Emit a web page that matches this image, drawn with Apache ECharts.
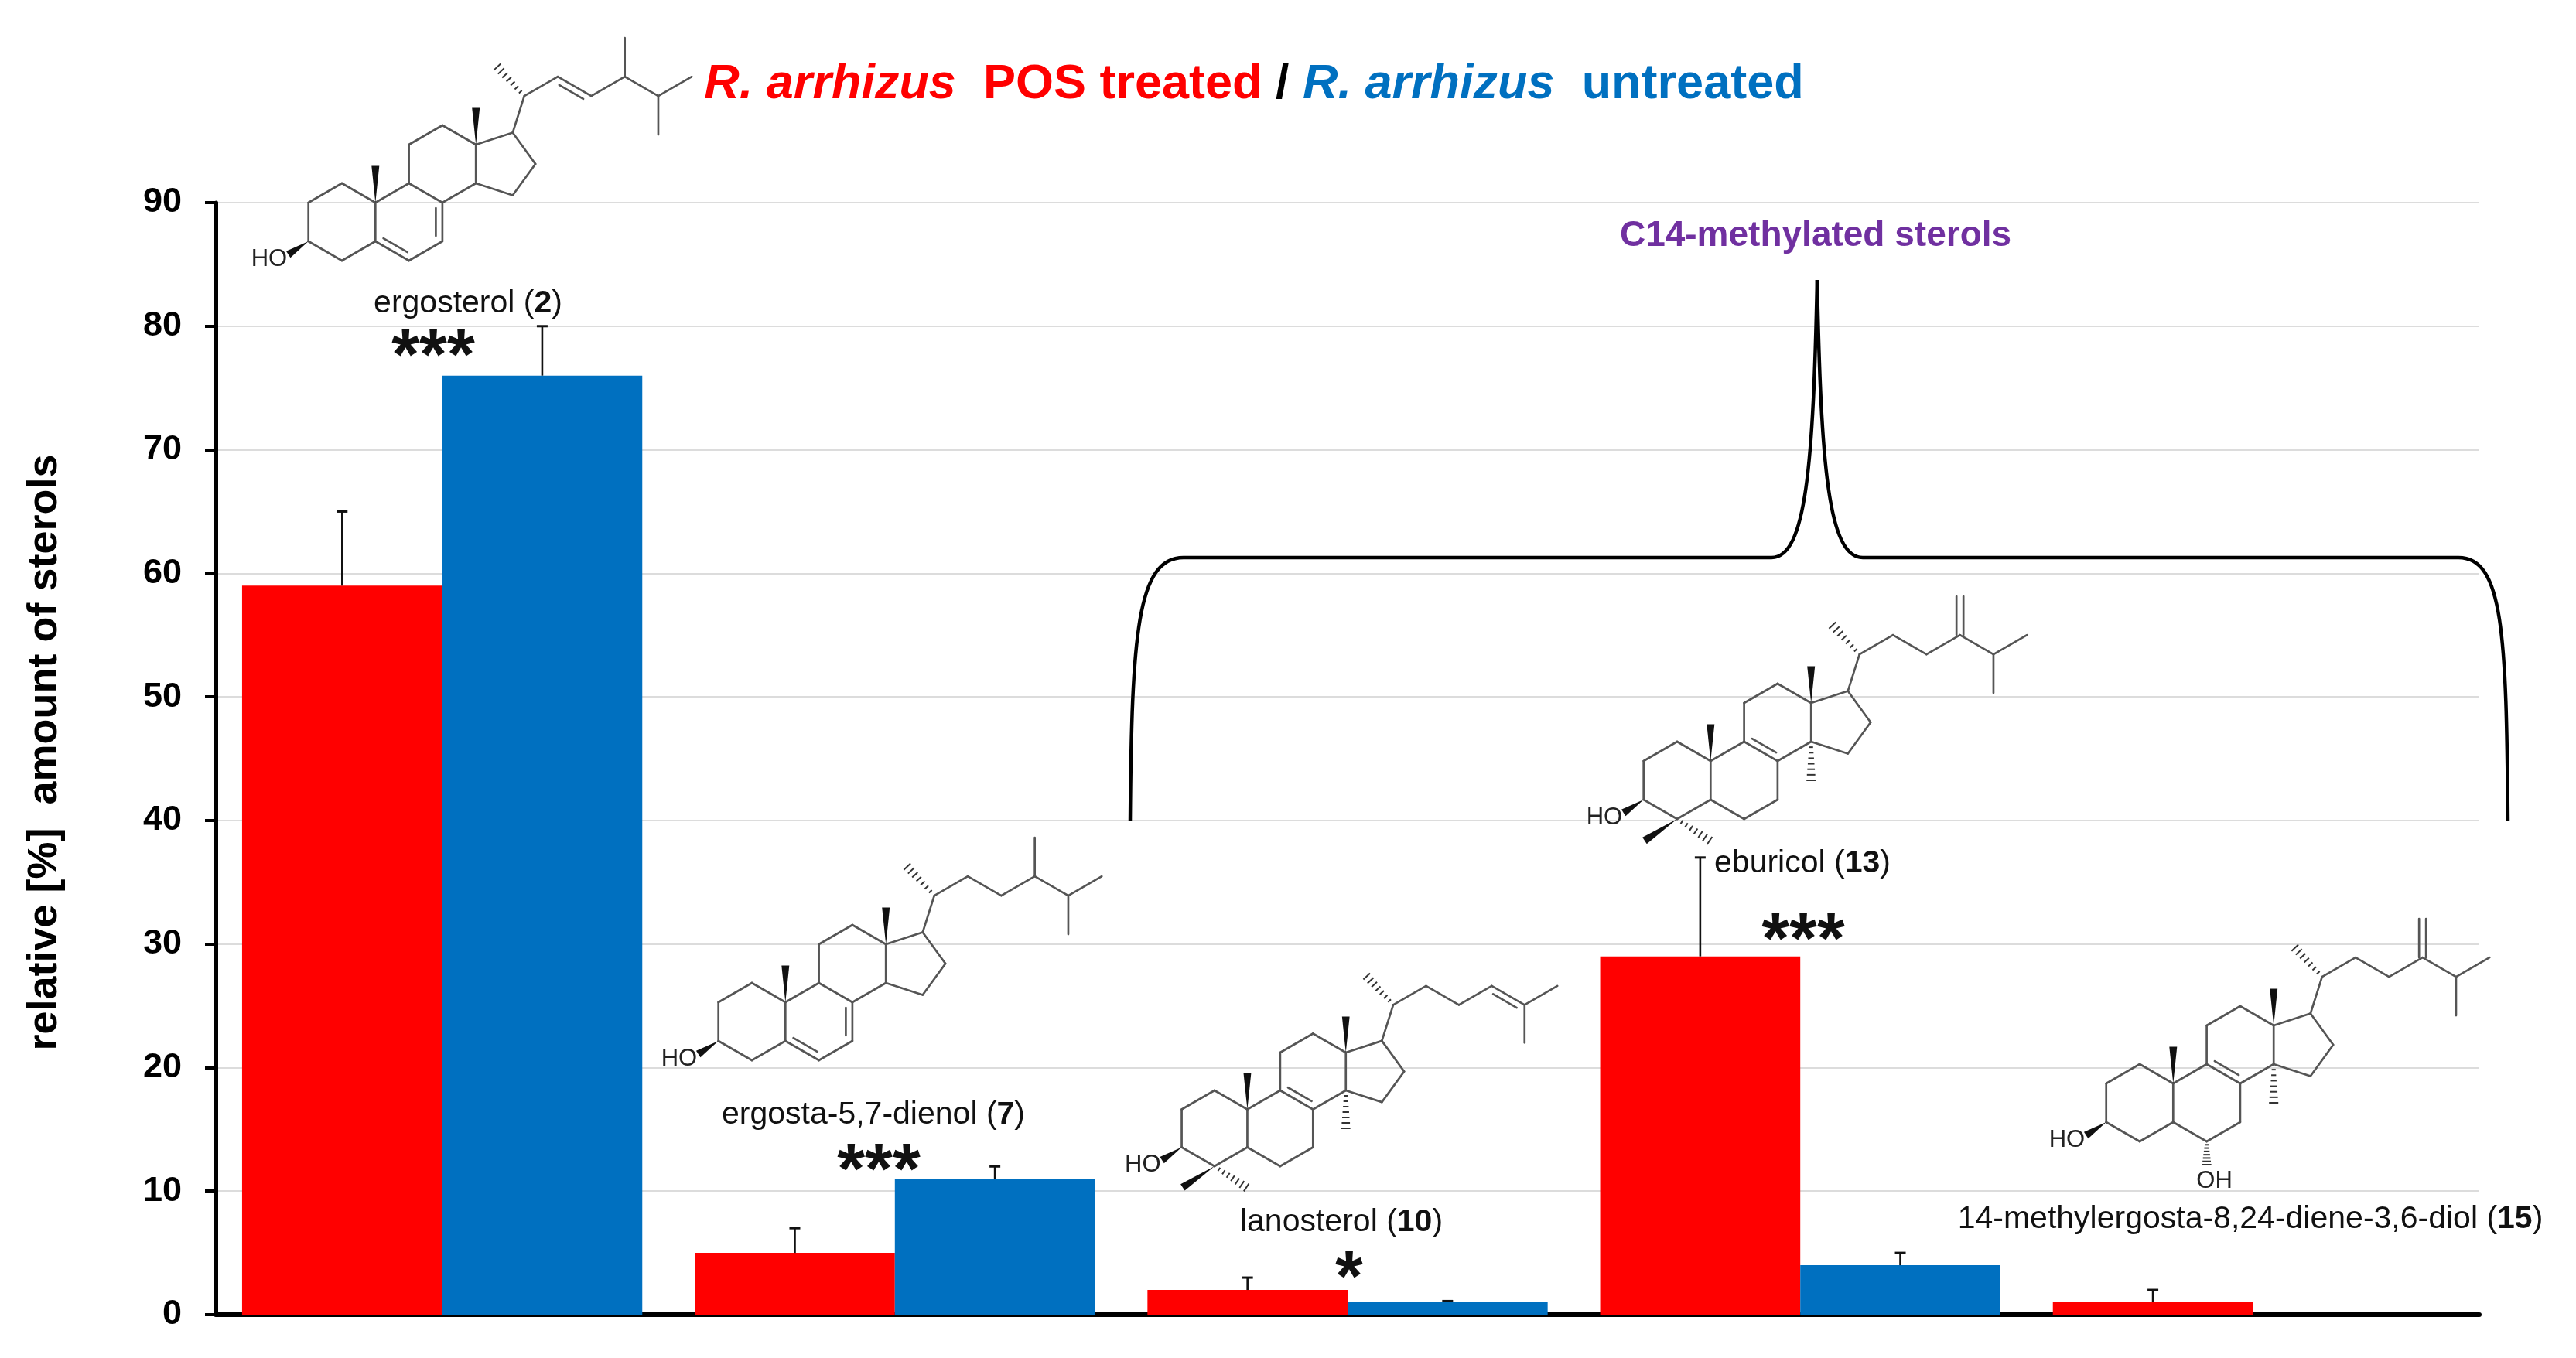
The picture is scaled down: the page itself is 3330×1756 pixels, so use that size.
<!DOCTYPE html>
<html><head><meta charset="utf-8">
<script src="https://cdn.jsdelivr.net/npm/echarts@6/dist/echarts.min.js"></script>
<style>html,body{margin:0;padding:0;background:#fff}#c{width:3330px;height:1756px}</style>
</head><body><div id="c"></div>
<script>
// ---------------- data ----------------
const categories = ['ergosterol (2)', 'ergosta-5,7-dienol (7)', 'lanosterol (10)', 'eburicol (13)', '14-methylergosta-8,24-diene-3,6-diol (15)'];
const treated = [59, 5, 2, 29, 1];
const treatedErr = [6, 2, 1, 8, 1];
const untreated = [76, 11, 1, 4, 0];
const untreatedErr = [4, 1, 0.1, 1, 0];
const significance = ['***', '***', '*', '***', ''];
const yTicks = [0, 10, 20, 30, 40, 50, 60, 70, 80, 90];
const seriesNames = ['R. arrhizus POS treated', 'R. arrhizus untreated'];
const groupLabel = 'C14-methylated sterols';
const yTitle = 'relative [%]  amount of sterols';

// ---------------- layout / style ----------------
const FONT = 'Liberation Sans';
const RED = '#FF0000', BLUE = '#0070C0';
const CAT_GAP = 0.116;
const labelPos = [[605, 393], [1129, 1442], [1734, 1581], [2330, 1117], [2909, 1577]];
const starPos = [[560, 465], [1136, 1518], [1744, 1657], [2331, 1220]];
const structureLayout = [
  {ax: 442, ay: 287, L: 50, d5: 1, d7: 1, d22: 1, c28: 'methyl'},
  {ax: 972, ay: 1321, L: 50, d5: 1, d7: 1, c28: 'methyl'},
  {ax: 1570, ay: 1459, L: 49, d8: 1, d24: 1, dm4: 1, me14: 1, c28: 'none'},
  {ax: 2168, ay: 1009, L: 50, d8: 1, dm4: 1, me14: 1, c28: 'methylene'},
  {ax: 2766, ay: 1426, L: 50, d8: 1, me14: 1, oh6: 1, c28: 'methylene'}
];

// ---------------- structure drawing helpers ----------------
const GRAY = '#555';
function seg(a, b, w) {
  return {type: 'line', silent: true, z: 5, shape: {x1: a[0], y1: a[1], x2: b[0], y2: b[1]},
    style: {stroke: GRAY, lineWidth: w || 2.7, lineCap: 'round'}};
}
function wedge(a, b, L) {
  const dx = b[0] - a[0], dy = b[1] - a[1], len = Math.hypot(dx, dy);
  const px = -dy / len * 0.1 * L, py = dx / len * 0.1 * L;
  return {type: 'polygon', silent: true, z: 5,
    shape: {points: [[a[0], a[1]], [b[0] + px, b[1] + py], [b[0] - px, b[1] - py]]},
    style: {fill: '#111'}};
}
function hashed(a, b, L) {
  const out = [];
  const dx = b[0] - a[0], dy = b[1] - a[1], len = Math.hypot(dx, dy);
  const ux = -dy / len, uy = dx / len;
  const n = 7;
  for (let i = 1; i <= n; i++) {
    const t = i / n;
    const cx = a[0] + dx * t, cy = a[1] + dy * t;
    const w = 0.04 * L + 0.08 * L * t;
    out.push({type: 'line', silent: true, z: 5,
      shape: {x1: cx - ux * w, y1: cy - uy * w, x2: cx + ux * w, y2: cy + uy * w},
      style: {stroke: '#333', lineWidth: 2}});
  }
  return out;
}
function inner(a, b, c, L) {
  const mx = (a[0] + b[0]) / 2, my = (a[1] + b[1]) / 2;
  const dx = b[0] - a[0], dy = b[1] - a[1], len = Math.hypot(dx, dy);
  let ux = -dy / len, uy = dx / len;
  if ((c[0] - mx) * ux + (c[1] - my) * uy < 0) { ux = -ux; uy = -uy; }
  const off = 0.17 * L, sh = 0.14;
  return seg([a[0] + dx * sh + ux * off, a[1] + dy * sh + uy * off],
             [b[0] - dx * sh + ux * off, b[1] - dy * sh + uy * off]);
}
function txt(s, x, y, align) {
  return {type: 'text', silent: true, z: 6, x: x, y: y,
    style: {text: s, font: '31px "' + FONT + '"', fill: '#222', textAlign: align || 'center', textVerticalAlign: 'middle'}};
}
function sterol(o) {
  const ax = o.ax, ay = o.ay, L = o.L, h = Math.sqrt(3) / 2 * L;
  const P = {
    C1: [ax, ay - L], C2: [ax - h, ay - L / 2], C3: [ax - h, ay + L / 2], C4: [ax, ay + L],
    C5: [ax + h, ay + L / 2], C10: [ax + h, ay - L / 2],
    C6: [ax + 2 * h, ay + L], C7: [ax + 3 * h, ay + L / 2], C8: [ax + 3 * h, ay - L / 2], C9: [ax + 2 * h, ay - L],
    C11: [ax + 2 * h, ay - 2 * L], C12: [ax + 3 * h, ay - 2.5 * L], C13: [ax + 4 * h, ay - 2 * L], C14: [ax + 4 * h, ay - L]
  };
  const x0 = ax + 4 * h, y0 = ay - 1.5 * L;
  P.C15 = [x0 + 0.951 * L, y0 + 0.809 * L];
  P.C16 = [x0 + 1.539 * L, y0];
  P.C17 = [x0 + 0.951 * L, y0 - 0.809 * L];
  P.C20 = [P.C17[0] + 0.3 * L, P.C17[1] - 0.95 * L];
  P.C21 = [P.C20[0] - 0.7 * L, P.C20[1] - 0.75 * L];
  P.C22 = [P.C20[0] + h, P.C20[1] - L / 2];
  P.C23 = [P.C22[0] + h, P.C22[1] + L / 2];
  P.C24 = [P.C23[0] + h, P.C23[1] - L / 2];
  P.C25 = [P.C24[0] + h, P.C24[1] + L / 2];
  P.C26 = [P.C25[0] + h, P.C25[1] - L / 2];
  P.C27 = [P.C25[0], P.C25[1] + L];
  P.C28 = [P.C24[0], P.C24[1] - L];
  const Bc = [ax + 2 * h, ay], Cc = [ax + 3 * h, ay - 1.5 * L];
  const bonds = [['C1','C2'],['C2','C3'],['C3','C4'],['C4','C5'],['C5','C10'],['C10','C1'],
    ['C5','C6'],['C6','C7'],['C7','C8'],['C8','C9'],['C9','C10'],
    ['C9','C11'],['C11','C12'],['C12','C13'],['C13','C14'],['C14','C8'],
    ['C13','C17'],['C17','C16'],['C16','C15'],['C15','C14'],
    ['C17','C20'],['C20','C22'],['C22','C23'],['C23','C24'],['C24','C25'],['C25','C26'],['C25','C27']];
  const els = bonds.map(b => seg(P[b[0]], P[b[1]]));
  if (o.c28 === 'methyl') els.push(seg(P.C24, P.C28));
  if (o.c28 === 'methylene') {
    const d = 0.09 * L;
    els.push(seg([P.C24[0] - d, P.C24[1]], [P.C28[0] - d, P.C28[1]]));
    els.push(seg([P.C24[0] + d, P.C24[1]], [P.C28[0] + d, P.C28[1]]));
  }
  if (o.d5) els.push(inner(P.C5, P.C6, Bc, L));
  if (o.d7) els.push(inner(P.C7, P.C8, Bc, L));
  if (o.d8) els.push(inner(P.C8, P.C9, Cc, L));
  if (o.d22) els.push(inner(P.C22, P.C23, [P.C22[0], P.C22[1] + 200], L));
  if (o.d24) els.push(inner(P.C24, P.C25, [P.C24[0], P.C24[1] + 200], L));
  els.push(wedge(P.C10, [P.C10[0], P.C10[1] - 0.95 * L], L));
  els.push(wedge(P.C13, [P.C13[0], P.C13[1] - 0.95 * L], L));
  els.push(...hashed(P.C20, P.C21, L));
  if (o.me14) els.push(...hashed(P.C14, [P.C14[0], P.C14[1] + L], L));
  if (o.dm4) {
    els.push(wedge(P.C4, [P.C4[0] - 0.84 * L, P.C4[1] + 0.56 * L], L));
    els.push(...hashed(P.C4, [P.C4[0] + 0.84 * L, P.C4[1] + 0.56 * L], L));
  }
  els.push(wedge(P.C3, [P.C3[0] - 0.52 * L, P.C3[1] + 0.34 * L], L));
  els.push(txt('HO', P.C3[0] - 0.55 * L, P.C3[1] + 0.47 * L, 'right'));
  if (o.oh6) {
    els.push(...hashed(P.C6, [P.C6[0], P.C6[1] + 0.6 * L], L));
    els.push(txt('OH', P.C6[0] + 0.2 * L, P.C6[1] + 1.02 * L, 'center'));
  }
  return els;
}

// ---------------- graphics ----------------
const graphics = [];
structureLayout.forEach(s => graphics.push(...sterol(s)));
categories.forEach((c, i) => {
  graphics.push({type: 'text', silent: true, z: 10, x: labelPos[i][0], y: labelPos[i][1],
    style: {text: c.replace(/\((\d+)\)$/, '({b|$1})'), font: '41px "' + FONT + '"', fill: '#111',
      textAlign: 'center', textVerticalAlign: 'middle',
      rich: {b: {fontWeight: 'bold', fontSize: 41, fontFamily: FONT, fill: '#111'}}}});
});
significance.forEach((s, i) => {
  if (!s) return;
  graphics.push({type: 'text', silent: true, z: 10, x: starPos[i][0], y: starPos[i][1],
    style: {text: s, font: 'bold 92px "' + FONT + '"', fill: '#111', textAlign: 'center', textVerticalAlign: 'middle'}});
});
graphics.push({type: 'text', silent: true, z: 10, x: 2347, y: 305,
  style: {text: groupLabel, font: 'bold 46px "' + FONT + '"', fill: '#7030A0', textAlign: 'center', textVerticalAlign: 'middle'}});
// brace
const braceStyle = {stroke: '#000', lineWidth: 4.5, fill: null};
[
  {x1: 1461, y1: 1062, cpx1: 1463, cpy1: 820, cpx2: 1470, cpy2: 721, x2: 1530, y2: 721},
  {x1: 2290, y1: 721, cpx1: 2335, cpy1: 721, cpx2: 2344, cpy2: 600, x2: 2349, y2: 362},
  {x1: 2349, y1: 362, cpx1: 2354, cpy1: 600, cpx2: 2363, cpy2: 721, x2: 2408, y2: 721},
  {x1: 3178, y1: 721, cpx1: 3236, cpy1: 721, cpx2: 3240, cpy2: 820, x2: 3242, y2: 1062}
].forEach(sh => graphics.push({type: 'bezierCurve', silent: true, z: 8, shape: sh, style: braceStyle}));
graphics.push({type: 'line', silent: true, z: 8, shape: {x1: 1530, y1: 721, x2: 2290, y2: 721}, style: braceStyle});
graphics.push({type: 'line', silent: true, z: 8, shape: {x1: 2408, y1: 721, x2: 3178, y2: 721}, style: braceStyle});
// title
const TS = 63;
graphics.push({type: 'text', silent: true, z: 10, x: 1621, y: 110,
  style: {text: '{ri|R. arrhizus}{r|  POS treated }{k|/ }{bi|R. arrhizus}{b|  untreated}',
    textAlign: 'center', textVerticalAlign: 'middle',
    rich: {
      ri: {fontFamily: FONT, fontSize: TS, fontWeight: 'bold', fontStyle: 'italic', fill: RED},
      r: {fontFamily: FONT, fontSize: TS, fontWeight: 'bold', fill: RED},
      k: {fontFamily: FONT, fontSize: TS, fontWeight: 'bold', fill: '#000'},
      bi: {fontFamily: FONT, fontSize: TS, fontWeight: 'bold', fontStyle: 'italic', fill: BLUE},
      b: {fontFamily: FONT, fontSize: TS, fontWeight: 'bold', fill: BLUE}
    }}});
graphics.push({type: 'text', silent: true, z: 10, x: 58, y: 973, rotation: Math.PI / 2,
  style: {text: yTitle, font: 'bold 54px "' + FONT + '"', fill: '#000', textAlign: 'center', textVerticalAlign: 'middle'}});

// ---------------- error bars ----------------
function errRender(params, api) {
  const idx = api.value(0), val = api.value(1), err = api.value(2), side = api.value(3);
  if (!err) return null;
  const base = api.coord([idx, val]);
  const top = api.coord([idx, val + err]);
  const band = api.size([1, 0])[0];
  const bw = band * (1 - CAT_GAP) / 2;
  const x = base[0] + side * bw / 2;
  return {type: 'group', children: [
    {type: 'line', shape: {x1: x, y1: base[1], x2: x, y2: top[1]}, style: {stroke: '#111', lineWidth: 2.6}},
    {type: 'line', shape: {x1: x - 7, y1: top[1], x2: x + 7, y2: top[1]}, style: {stroke: '#111', lineWidth: 3}}
  ]};
}

const chart = echarts.init(document.getElementById('c'));
chart.setOption({
  animation: false,
  backgroundColor: '#fff',
  grid: {left: 279, right: 125, top: 262, bottom: 56},
  xAxis: {type: 'category', data: categories,
    axisLine: {lineStyle: {color: '#000', width: 6}}, axisTick: {show: false}, axisLabel: {show: false}},
  yAxis: {type: 'value', min: yTicks[0], max: yTicks[yTicks.length - 1], interval: yTicks[1] - yTicks[0],
    axisLine: {show: true, lineStyle: {color: '#000', width: 5}},
    axisTick: {show: true, length: 14, lineStyle: {color: '#000', width: 4}},
    axisLabel: {fontSize: 45, fontWeight: 'bold', color: '#000', fontFamily: FONT, margin: 44},
    splitLine: {show: true, lineStyle: {color: '#dcdcdc', width: 2}}},
  series: [
    {name: seriesNames[0], type: 'bar', data: treated, itemStyle: {color: RED}, barGap: '0%', barCategoryGap: (CAT_GAP * 100) + '%', z: 2},
    {name: seriesNames[1], type: 'bar', data: untreated, itemStyle: {color: BLUE}, barGap: '0%', barCategoryGap: (CAT_GAP * 100) + '%', z: 2},
    {type: 'custom', renderItem: errRender, encode: {x: 0, y: 1}, z: 10,
      data: treated.map((v, i) => [i, v, treatedErr[i], -1])},
    {type: 'custom', renderItem: errRender, encode: {x: 0, y: 1}, z: 10,
      data: untreated.map((v, i) => [i, v, untreatedErr[i], 1])}
  ],
  graphic: {elements: graphics}
});
</script></body></html>
